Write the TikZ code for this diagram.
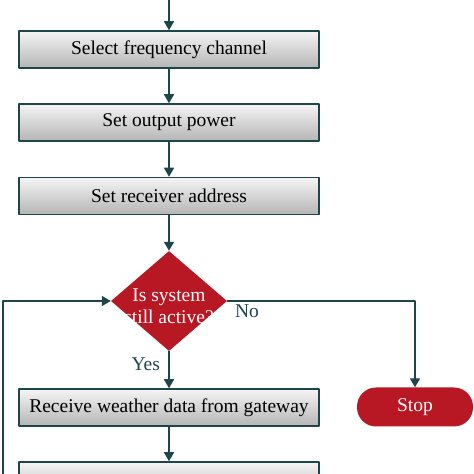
\documentclass[tikz,border=0pt]{standalone}
\usepackage{fontspec}
\setmainfont{Liberation Serif}
\usetikzlibrary{arrows.meta,shapes.geometric}
\definecolor{flowline}{RGB}{30,70,74}
\definecolor{flowred}{RGB}{184,24,36}
\tikzset{
  stepbox/.style={draw=flowline,line width=1.5pt,top color=gray!8,bottom color=gray!58,
    minimum width=300pt,minimum height=37pt,inner sep=0pt},
  decbox/.style={diamond,fill=flowred,minimum width=116pt,minimum height=100pt,inner sep=0pt},
  stopbox/.style={fill=flowred,rounded corners=19pt,minimum width=116pt,minimum height=39pt,
    inner sep=0pt,text=white},
  flow/.style={draw=flowline,line width=1.5pt,->}
}
\begin{document}
\begin{tikzpicture}[x=1pt,y=1pt,>={Triangle[width=10pt,length=9pt]},line join=round,
  font=\fontsize{19.5}{22}\selectfont]
		\clip (0,0) rectangle (474,474);
		\useasboundingbox (0,0) rectangle (474,474);
		\coordinate (top) at (169,474);
		\node[stepbox] (freq) at (169,424.5) {Select frequency channel};
		\node[stepbox] (power) at (169,351.5) {Set output power};
		\node[stepbox] (addr) at (169,278) {Set receiver address};
		\node[decbox] (active) at (169,173) {};
		\node[text=white,align=center] (activetxt) at (169,168) {Is system\\still active?};
		\node[stepbox] (recv) at (169,66.5) {Receive weather data from gateway};
		\node[stepbox] (next) at (169,-6.5) {};
		\node[stopbox] (stop) at (415,67) {Stop};
		\coordinate (loop) at (3,-20);
		% main flow
		\draw[flow] (top)--(freq);
		\draw[flow] (freq)--(power);
		\draw[flow] (power)--(addr);
		\draw[flow] (addr)--(active);
		\draw[flow] (active.south)--node[pos=0.35,left,xshift=-5pt,text=flowline]{Yes}(recv);
		\draw[flow] (recv)--(next);
		% branches
		\draw[flow] (active.east)-|node[pos=0.01,below right,text=flowline]{No}(stop.north);
		\draw[flow] (loop)|-(active.west);
		\end{tikzpicture}
\end{document}
